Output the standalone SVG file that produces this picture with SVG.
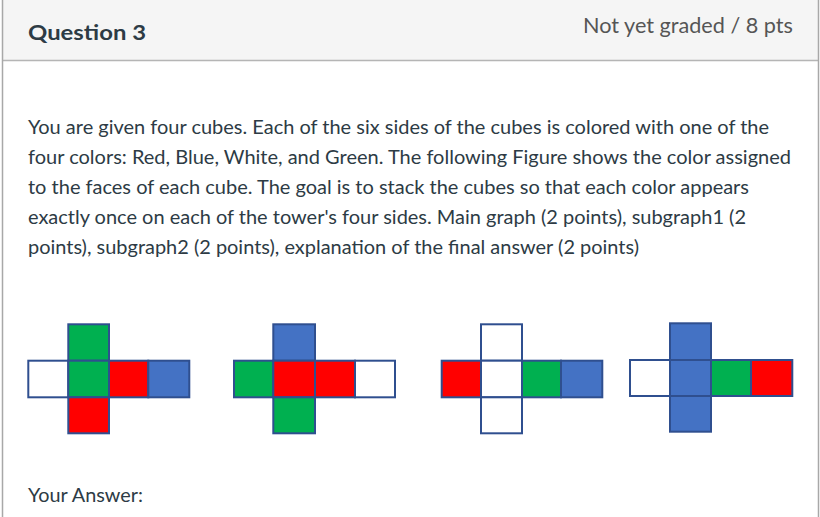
<svg xmlns="http://www.w3.org/2000/svg" width="820" height="517" viewBox="0 0 820 517">
<style>
.t{font-family:Lato,"Open Sans","Liberation Sans",sans-serif;fill:#2d3b45}
.b{font-size:18.5px}
.c{stroke:#2f4f8f;stroke-width:2}
.R{fill:#ff0000}.G{fill:#00b050}.B{fill:#4472c4}.W{fill:#ffffff}
</style>
<rect x="0" y="0" width="820" height="517" fill="#ffffff"/>
<g id="header">
<rect x="2.5" y="0" width="816" height="60.5" fill="#f5f5f5"/>
<line x1="2.5" y1="60.5" x2="818.5" y2="60.5" stroke="#b5b5b5" stroke-width="1.5"/>
<text class="t" x="28" y="39.5" font-size="20.5" font-weight="bold" textLength="118" lengthAdjust="spacingAndGlyphs">Question 3</text>
<text class="t" x="583" y="32.5" font-size="21" style="fill:#555" textLength="210" lengthAdjust="spacingAndGlyphs">Not yet graded / 8 pts</text>
</g>
<line x1="2.5" y1="0" x2="2.5" y2="517" stroke="#a8a8a8" stroke-width="1.5"/>
<line x1="818.5" y1="0" x2="818.5" y2="517" stroke="#a8a8a8" stroke-width="1.5"/>
<g id="question">
<text class="t b" x="28" y="133.5" textLength="741" lengthAdjust="spacingAndGlyphs">You are given four cubes. Each of the six sides of the cubes is colored with one of the</text>
<text class="t b" x="28" y="163.5" textLength="763" lengthAdjust="spacingAndGlyphs">four colors: Red, Blue, White, and Green. The following Figure shows the color assigned</text>
<text class="t b" x="28" y="193.5" textLength="721" lengthAdjust="spacingAndGlyphs">to the faces of each cube. The goal is to stack the cubes so that each color appears</text>
<text class="t b" x="28" y="223.5" textLength="718" lengthAdjust="spacingAndGlyphs">exactly once on each of the tower's four sides. Main graph (2 points), subgraph1 (2</text>
<text class="t b" x="28" y="253.5" textLength="611" lengthAdjust="spacingAndGlyphs">points), subgraph2 (2 points), explanation of the final answer (2 points)</text>
</g>
<g id="cube1" class="c">
<rect class="G" x="68.3" y="324.3" width="40.7" height="36.4"/>
<rect class="W" x="28.3" y="360.7" width="40" height="36.6"/>
<rect class="G" x="68.3" y="360.7" width="40.7" height="36.6"/>
<rect class="R" x="109" y="360.7" width="39.3" height="36.6"/>
<rect class="B" x="148.3" y="360.7" width="41" height="36.6"/>
<rect class="R" x="68.3" y="397.3" width="40.7" height="36"/>
</g>
<g id="cube2" class="c">
<rect class="B" x="273.3" y="324.3" width="41.7" height="36.4"/>
<rect class="G" x="234" y="360.7" width="39.3" height="36.6"/>
<rect class="R" x="273.3" y="360.7" width="41.7" height="36.6"/>
<rect class="R" x="315" y="360.7" width="40" height="36.6"/>
<rect class="W" x="355" y="360.7" width="40" height="36.6"/>
<rect class="G" x="273.3" y="397.3" width="41.7" height="36"/>
</g>
<g id="cube3" class="c">
<rect class="W" x="481" y="324.3" width="41" height="36.4"/>
<rect class="R" x="441.7" y="360.7" width="39.3" height="36.6"/>
<rect class="W" x="481" y="360.7" width="41" height="36.6"/>
<rect class="G" x="522" y="360.7" width="39" height="36.6"/>
<rect class="B" x="561" y="360.7" width="41.3" height="36.6"/>
<rect class="W" x="481" y="397.3" width="41" height="36"/>
</g>
<g id="cube4" class="c">
<rect class="B" x="670" y="323.3" width="41" height="36.7"/>
<rect class="W" x="630" y="360" width="40" height="36"/>
<rect class="B" x="670" y="360" width="41" height="36"/>
<rect class="G" x="711" y="360" width="40" height="36"/>
<rect class="R" x="751" y="360" width="41.3" height="36"/>
<rect class="B" x="670" y="396" width="41" height="35.7"/>
</g>
<g id="answer">
<text class="t" x="28" y="501.5" font-size="19" textLength="115" lengthAdjust="spacingAndGlyphs">Your Answer:</text>
</g>
</svg>
